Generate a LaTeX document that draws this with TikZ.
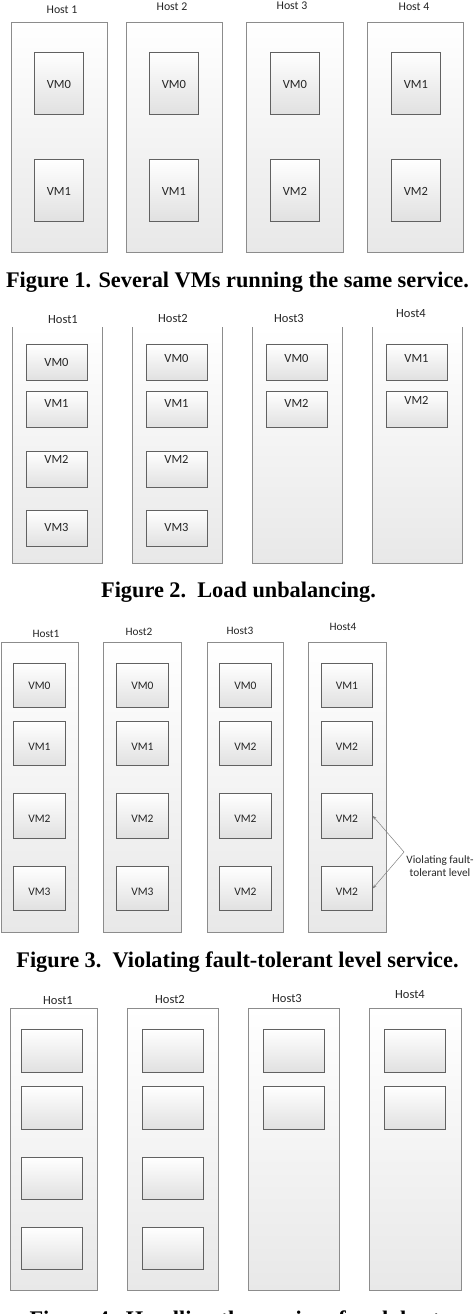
\documentclass[tikz,border=0pt]{standalone}
\usepackage{fontspec}
\setmainfont{Liberation Serif}
\newfontfamily\lab{Carlito}
\usetikzlibrary{arrows.meta}
\tikzset{
  hostbox/.style={draw=black!45, line width=0.8pt, top color=white, bottom color=black!9, inner sep=0pt, anchor=north west},
  hostopen/.style={draw=none, top color=white, bottom color=black!9, inner sep=0pt, anchor=north west},
  hostline/.style={draw=black!45, line width=0.8pt},
  vmbox/.style={draw=black!62, line width=0.8pt, top color=white, bottom color=black!12, inner sep=0pt, anchor=north west},
  hostlab/.style={font=\lab\fontsize{11.5}{12}\selectfont, inner sep=0pt, text=black!85},
  vmlab/.style={font=\lab\fontsize{12.5}{12}\selectfont, inner sep=0pt, text=black!85},
  notelab/.style={font=\lab\fontsize{11.3}{13.5}\selectfont, inner sep=0pt, align=center, text=black!85},
  captext/.style={font=\bfseries\fontsize{22.3}{24}\selectfont, inner sep=0pt},
  notearrow/.style={draw=black!50, line width=0.5pt, -{Stealth[length=4pt,width=3pt]}},
}
% style, name, x1, y1, x2, y2
\newcommand\bx[6]{\node[#1, minimum width={(#5-#3)*1pt}, minimum height={(#6-#4)*1pt}] (#2) at (#3,#4) {};}
\begin{document}
\begin{tikzpicture}[x=1pt,y=-1pt]
\useasboundingbox (0,0) rectangle (474,1314);
\clip (0,0) rectangle (474,1314);
\fill[white] (0,0) rectangle (474,1314);

% ---------------- Figure 1 ----------------
\foreach \n/\xa/\xb/\lx/\ly/\t in {1/11/107/62/10/Host 1, 2/126/222/172/7/Host 2, 3/246/343/292/6/Host 3, 4/367/463/414/7/Host 4}{
  \bx{hostbox}{fa\n}{\xa}{22}{\xb}{252}
  \node[hostlab, font=\lab\fontsize{11.8}{12}\selectfont] (fal\n) at (\lx,\ly) {\t};
}
\foreach \n/\xa/\xb/\ta/\tb in {1/34/83/VM0/VM1, 2/149/198/VM0/VM1, 3/270/319/VM0/VM2, 4/391/440/VM1/VM2}{
  \bx{vmbox}{fa\n v1}{\xa}{52}{\xb}{114}
  \bx{vmbox}{fa\n v2}{\xa}{159}{\xb}{221}
  \node[vmlab] at ([yshift=-1pt]fa\n v1.center) {\ta};
  \node[vmlab] at ([yshift=-1pt]fa\n v2.center) {\tb};
}
\node[captext] (cap1) at (237.5,282) {Figure 1. Several VMs running the same service.};

% ---------------- Figure 2 ----------------
\foreach \n/\xa/\xb/\lx/\ly in {1/12/102/63/320, 2/132/222/173/318, 3/252/342/289/318, 4/372/462/411/314}{
  \bx{hostopen}{fb\n}{\xa}{327}{\xb}{563}
  \draw[hostline] (fb\n.north west) -- (fb\n.south west) -- (fb\n.south east) -- (fb\n.north east);
  \node[hostlab, font=\lab\fontsize{12.5}{12}\selectfont] (fbl\n) at (\lx,\ly) {Host\n};
}
\foreach \n/\xa/\xb in {1/26/87, 2/146/207}{
  \bx{vmbox}{fb\n v1}{\xa}{344}{\xb}{380}
  \bx{vmbox}{fb\n v2}{\xa}{391}{\xb}{427}
  \bx{vmbox}{fb\n v3}{\xa}{451}{\xb}{487}
  \bx{vmbox}{fb\n v4}{\xa}{510}{\xb}{546}
}
\foreach \n/\xa/\xb in {3/266/327, 4/386/447}{
  \bx{vmbox}{fb\n v1}{\xa}{344}{\xb}{380}
  \bx{vmbox}{fb\n v2}{\xa}{391}{\xb}{427}
}
\node[vmlab] at (56.5,362) {VM0};
\node[vmlab] at (56.5,403) {VM1};
\node[vmlab] at (56.5,459) {VM2};
\node[vmlab] at (56.5,527) {VM3};
\node[vmlab] at (176.5,358) {VM0};
\node[vmlab] at (176.5,403) {VM1};
\node[vmlab] at (176.5,459) {VM2};
\node[vmlab] at (176.5,527) {VM3};
\node[vmlab] at (296.5,358) {VM0};
\node[vmlab] at (296.5,403) {VM2};
\node[vmlab] at (416.5,358) {VM1};
\node[vmlab] at (416.5,400) {VM2};
\node[captext] (cap2) at (238.5,592) {Figure 2.\ \ Load unbalancing.};

% ---------------- Figure 3 ----------------
\foreach \n/\xa/\xb/\lx/\ly in {1/1/78/46/634, 2/103/181/139/632, 3/207/283/240/631, 4/308/386/343/627}{
  \bx{hostbox}{fc\n}{\xa}{642}{\xb}{932}
  \node[hostlab, font=\lab\fontsize{11.3}{12}\selectfont] (fcl\n) at (\lx,\ly) {Host\n};
}
\foreach \n/\xa/\xb/\ta/\tb/\tc/\td in {1/13/65/VM0/VM1/VM2/VM3, 2/116/168/VM0/VM1/VM2/VM3, 3/219/271/VM0/VM2/VM2/VM2, 4/321/372/VM1/VM2/VM2/VM2}{
  \bx{vmbox}{fc\n v1}{\xa}{663}{\xb}{707}
  \bx{vmbox}{fc\n v2}{\xa}{721}{\xb}{765}
  \bx{vmbox}{fc\n v3}{\xa}{793}{\xb}{838}
  \bx{vmbox}{fc\n v4}{\xa}{866}{\xb}{910}
  \node[vmlab, font=\lab\fontsize{11.5}{12}\selectfont] at (fc\n v1.center) {\ta};
  \node[vmlab, font=\lab\fontsize{11.5}{12}\selectfont] at ([yshift=-3pt]fc\n v2.center) {\tb};
  \node[vmlab, font=\lab\fontsize{11.5}{12}\selectfont] at ([yshift=-3pt]fc\n v3.center) {\tc};
  \node[vmlab, font=\lab\fontsize{11.5}{12}\selectfont] at ([yshift=-3pt]fc\n v4.center) {\td};
}
\node[notelab] (viol) at (440,866) {Violating fault-\\tolerant level};
\coordinate (vtip) at (404,852);
\draw[notearrow] (vtip) -- (fc4v3.east);
\draw[notearrow] (vtip) -- (fc4v4.east);
\node[captext] (cap3) at (237.5,962) {Figure 3.\ \ Violating fault-tolerant level service.};

% ---------------- Figure 4 ----------------
\foreach \n/\xa/\xb/\lx/\ly in {1/10/97/58/1001, 2/127/218/170/999, 3/248/339/287/998, 4/369/461/410/995}{
  \bx{hostbox}{fd\n}{\xa}{1008}{\xb}{1290}
  \node[hostlab, font=\lab\fontsize{12.5}{12}\selectfont] (fdl\n) at (\lx,\ly) {Host\n};
}
\foreach \n/\xa/\xb in {1/21/82, 2/142/203}{
  \bx{vmbox}{fd\n v1}{\xa}{1029}{\xb}{1072}
  \bx{vmbox}{fd\n v2}{\xa}{1086}{\xb}{1129}
  \bx{vmbox}{fd\n v3}{\xa}{1157}{\xb}{1199}
  \bx{vmbox}{fd\n v4}{\xa}{1227}{\xb}{1269}
}
\foreach \n/\xa/\xb in {3/263/324, 4/384/445}{
  \bx{vmbox}{fd\n v1}{\xa}{1029}{\xb}{1072}
  \bx{vmbox}{fd\n v2}{\xa}{1086}{\xb}{1129}
}
\node[captext, anchor=base] (cap4) at (237.5,1326) {Figure 4.\ \ Handling the service of each host.};
\end{tikzpicture}
\end{document}
